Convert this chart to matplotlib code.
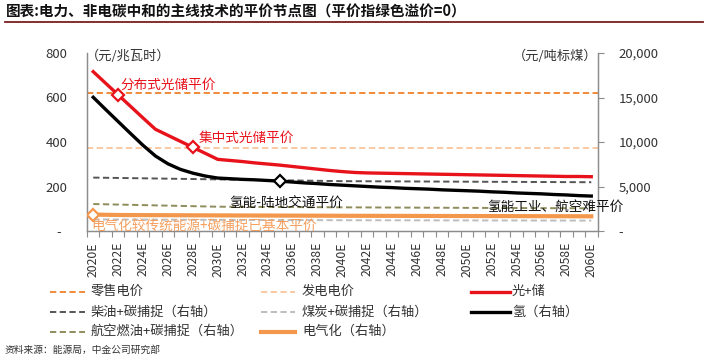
import matplotlib
matplotlib.use("Agg")
import matplotlib.pyplot as plt
from matplotlib.lines import Line2D
import numpy as np

plt.rcParams['font.family'] = ['Noto Sans CJK SC', 'DejaVu Sans']
plt.rcParams['axes.unicode_minus'] = False
plt.rcParams['lines.scale_dashes'] = False

# ---------------- data ----------------
categories = ["2020E", "2021E", "2022E", "2023E", "2024E", "2025E", "2026E", "2027E", "2028E", "2029E",
              "2030E", "2031E", "2032E", "2033E", "2034E", "2035E", "2036E", "2037E", "2038E", "2039E",
              "2040E", "2041E", "2042E", "2043E", "2044E", "2045E", "2046E", "2047E", "2048E", "2049E",
              "2050E", "2051E", "2052E", "2053E", "2054E", "2055E", "2056E", "2057E", "2058E", "2059E",
              "2060E"]

# left axis (元/兆瓦时)
retail_price = 620
generation_price = 375
solar_storage = [716, 664, 612, 560, 508, 457, 430, 403, 376, 349,
                 322, 317, 312, 306, 301, 296, 290, 284, 278, 272,
                 267, 263, 261, 260, 259, 258, 257, 256, 255, 254,
                 253, 252, 251, 250, 249, 248, 247, 246, 245, 245,
                 244]

# right axis (元/吨标煤)
diesel_ccs = [6000, 5980, 5960, 5940, 5920, 5900, 5880, 5860, 5840, 5820,
              5800, 5780, 5760, 5740, 5720, 5700, 5680, 5660, 5640, 5620,
              5600, 5594, 5588, 5582, 5576, 5570, 5564, 5558, 5552, 5546,
              5540, 5534, 5528, 5522, 5516, 5510, 5504, 5498, 5492, 5486,
              5480]
coal_ccs = [1300, 1295, 1290, 1285, 1280, 1275, 1270, 1265, 1260, 1255,
            1250, 1246, 1242, 1238, 1234, 1230, 1226, 1222, 1218, 1214,
            1210, 1208, 1206, 1204, 1202, 1200, 1198, 1196, 1194, 1192,
            1190, 1188, 1186, 1184, 1182, 1180, 1178, 1176, 1174, 1172,
            1170]
jetfuel_ccs = [3030, 3000, 2970, 2940, 2910, 2880, 2850, 2820, 2790, 2760,
               2730, 2723, 2716, 2709, 2702, 2695, 2688, 2681, 2674, 2667,
               2660, 2654, 2648, 2642, 2636, 2630, 2624, 2618, 2612, 2606,
               2600, 2595, 2590, 2585, 2580, 2575, 2570, 2565, 2560, 2555,
               2550]
hydrogen = [15025, 13650, 12300, 10950, 9625, 8425, 7550, 6925, 6500, 6175,
            5950, 5875, 5800, 5750, 5675, 5600, 5500, 5400, 5325, 5225,
            5150, 5075, 5000, 4925, 4875, 4800, 4750, 4700, 4625, 4575,
            4525, 4475, 4400, 4350, 4275, 4225, 4175, 4100, 4050, 3975,
            3925]
electrification = [1850, 1820, 1800, 1790, 1785, 1780, 1775, 1770, 1765, 1760,
                   1755, 1750, 1745, 1740, 1736, 1732, 1728, 1724, 1720, 1716,
                   1712, 1709, 1706, 1703, 1700, 1697, 1694, 1691, 1688, 1685,
                   1682, 1679, 1676, 1673, 1670, 1667, 1664, 1661, 1658, 1655,
                   1652]

solar_parity_years = ["2022E", "2028E"]
hydrogen_parity_years = ["2035E"]
electrification_parity_years = ["2020E"]

left_ticks = [0, 200, 400, 600, 800]
right_ticks = [0, 5000, 10000, 15000, 20000]

labels = {
    "retail": "零售电价", "gen": "发电电价", "solar": "光+储",
    "diesel": "柴油+碳捕捉（右轴）", "coal": "煤炭+碳捕捉（右轴）", "h2": "氢（右轴）",
    "jet": "航空燃油+碳捕捉（右轴）", "elec": "电气化（右轴）",
}

# ---------------- styling ----------------
W, H = 720, 357
C_RETAIL = "#F08A3A"
C_GEN = "#F9C9A2"
C_RED = "#E8121B"
C_DIESEL = "#555555"
C_COAL = "#BDBDBD"
C_H2 = "#000000"
C_JET = "#8F8C5C"
C_ELEC = "#F3974C"
C_SPINE = "#8C8C8C"
C_TXT = "#333333"
DASH = (4.5, 2.5)
MS = 5.8


def fx(px):
    return px / W


def fy(py):
    return 1 - py / H


fig = plt.figure(figsize=(W / 100, H / 100), dpi=100)
ax = fig.add_axes([fx(87), fy(231), (597.5 - 87) / W, (231 - 53) / H])
ax2 = ax.twinx()

x = np.arange(len(categories))
idx = {c: i for i, c in enumerate(categories)}

# left axis series
l_retail = ax.axhline(retail_price, color=C_RETAIL, lw=1.4, dashes=DASH)
l_gen = ax.axhline(generation_price, color=C_GEN, lw=1.4, dashes=DASH)
l_solar, = ax.plot(x, solar_storage, color=C_RED, lw=2.4, zorder=5)
ax.plot([idx[c] for c in solar_parity_years],
        [solar_storage[idx[c]] for c in solar_parity_years],
        linestyle='none', marker='D', ms=MS, mfc='white', mec=C_RED, mew=1.6, zorder=6)

# right axis series
l_diesel, = ax2.plot(x, diesel_ccs, color=C_DIESEL, lw=1.4, dashes=DASH)
l_jet, = ax2.plot(x, jetfuel_ccs, color=C_JET, lw=1.4, dashes=DASH)
l_coal, = ax2.plot(x, coal_ccs, color=C_COAL, lw=1.4, dashes=DASH)
l_elec, = ax2.plot(x, electrification, color=C_ELEC, lw=3.0)
l_h2, = ax2.plot(x, hydrogen, color=C_H2, lw=2.4)
ax2.plot([idx[c] for c in electrification_parity_years],
         [electrification[idx[c]] for c in electrification_parity_years],
         linestyle='none', marker='D', ms=MS, mfc='white', mec=C_ELEC, mew=1.6, zorder=6)
ax2.plot([idx[c] for c in hydrogen_parity_years],
         [hydrogen[idx[c]] for c in hydrogen_parity_years],
         linestyle='none', marker='D', ms=MS, mfc='white', mec=C_H2, mew=1.6, zorder=6)

# axes limits and ticks
ax.set_xlim(-0.5, len(categories) - 0.5)
ax.set_ylim(0, 800)
ax2.set_ylim(0, 20000)

ax.set_xticks(x[::2])
ax.set_xticklabels(categories[::2], rotation=90, fontsize=8.8, color=C_TXT)
ax.set_xticks(np.arange(-0.5, len(categories), 1.0), minor=True)
ax.tick_params(axis='x', which='major', length=0, pad=8)
ax.tick_params(axis='x', which='minor', length=4, width=0.8, color=C_SPINE, direction='out')

ax.set_yticks(left_ticks)
ax.set_yticklabels([("-  " if v == 0 else f"{v:,}") for v in left_ticks], fontsize=9.5, color=C_TXT)
ax.tick_params(axis='y', length=0, pad=14)

ax2.set_yticks(right_ticks)
ax2.set_yticklabels([("-" if v == 0 else f"{v:,}") for v in right_ticks], fontsize=9.5, color=C_TXT)
ax2.tick_params(axis='y', length=4, width=0.8, color=C_SPINE, pad=11, direction='out')

for a in (ax, ax2):
    a.spines['top'].set_visible(False)
    for s in ('left', 'right', 'bottom'):
        a.spines[s].set_color(C_SPINE)
        a.spines[s].set_linewidth(0.9)
    a.patch.set_visible(False)

# ---------------- annotations ----------------
fs_ann = 9.8
fig.text(fx(120), fy(85), "分布式光储平价", color=C_RED, fontsize=fs_ann, ha='left', va='center')
fig.text(fx(199), fy(138), "集中式光储平价", color=C_RED, fontsize=fs_ann, ha='left', va='center')
fig.text(fx(229), fy(203), "氢能-陆地交通平价", color="#111111", fontsize=fs_ann, ha='left', va='center')
fig.text(fx(487), fy(207), "氢能工业、航空难平价", color="#111111", fontsize=fs_ann, ha='left', va='center')
fig.text(fx(91), fy(227), "电气化较传统能源+碳捕捉已基本平价", color="#F5A060", fontsize=fs_ann,
         ha='left', va='center')

# units
fig.text(fx(86), fy(56), "（元/兆瓦时）", color=C_TXT, fontsize=9.5, ha='left', va='center')
fig.text(fx(597), fy(56), "（元/吨标煤）", color=C_TXT, fontsize=9.5, ha='right', va='center')

# title
fig.text(fx(6), fy(12), "图表:电力、非电碳中和的主线技术的平价节点图（平价指绿色溢价=0）",
         fontsize=10.5, fontweight='bold', color="#111111", ha='left', va='center')
fig.add_artist(Line2D([fx(5), fx(703)], [fy(21.5), fy(21.5)], transform=fig.transFigure,
                      color="#7A1E1E", lw=1.3))

# source
fig.text(fx(5), fy(350), "资料来源：能源局，中金公司研究部", fontsize=7, color=C_TXT, ha='left', va='center')

# ---------------- legend (manual, 3 columns) ----------------
rows = [291.5, 312, 331.5]
cols = [(50, 85, 91), (261, 295, 302), (471, 510, 512)]
legend_layout = [
    (0, 0, l_retail, labels["retail"]), (0, 1, l_gen, labels["gen"]), (0, 2, l_solar, labels["solar"]),
    (1, 0, l_diesel, labels["diesel"]), (1, 1, l_coal, labels["coal"]), (1, 2, l_h2, labels["h2"]),
    (2, 0, l_jet, labels["jet"]), (2, 1, l_elec, labels["elec"]),
]
for r, c, src, lab in legend_layout:
    x0, x1, xt = cols[c]
    yy = fy(rows[r])
    ls = src.get_linestyle()
    h = Line2D([fx(x0), fx(x1)], [yy, yy], transform=fig.transFigure,
               color=src.get_color(), lw=src.get_linewidth())
    if ls != '-':
        h.set_dashes(DASH)
    fig.add_artist(h)
    fig.text(fx(xt), yy, lab, fontsize=9.5, color=C_TXT, ha='left', va='center')

fig.savefig("out.png", dpi=100)
